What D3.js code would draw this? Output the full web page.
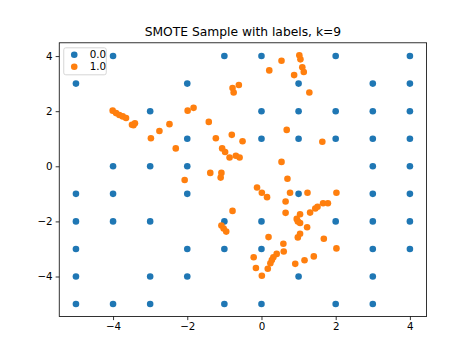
<!DOCTYPE html>
<html>
<head>
<meta charset="utf-8">
<script src="https://cdn.jsdelivr.net/npm/d3@7"></script>
<style>
  body { margin: 0; background: #fff; }
  text { font-family: "DejaVu Sans", sans-serif; }
</style>
</head>
<body>
<div id="chart"></div>
<script>
const width = 474;
const height = 355;

// label 0.0: original majority samples on the integer grid
const x0 = [-4, -1, 0, 2, 4,
    -5, -2, 1, 3, 4,
    -3, 0, 1, 2, 3, 4,
    -2, 0, 1, 2, 3, 4,
    -4, -3, -2, 3, 4,
    -5, -4, -2, 1, 3, 4,
    -5, -4, -3, -1, 0, 2, 3, 4,
    -5, -2, -1, 0, 3, 4,
    -5, -3, -2, 1, 3,
    -5, -4, -3, -1, 0, 2, 3];
const y0 = [4, 4, 4, 4, 4,
    3, 3, 3, 3, 3,
    2, 2, 2, 2, 2, 2,
    1, 1, 1, 1, 1, 1,
    0, 0, 0, 0, 0,
    -1, -1, -1, -1, -1, -1,
    -2, -2, -2, -2, -2, -2, -2, -2,
    -3, -3, -3, -3, -3, -3,
    -4, -4, -4, -4, -4,
    -5, -5, -5, -5, -5, -5, -5];

// label 1.0: minority + SMOTE samples
const x1 = [-4.01, -3.92, -3.83, -3.74, -3.65, -3.49, -3.45, -3.41, -2.98, -2.75,
    -2.48, -2.31, -1.99, -1.83, -1.42, -1.23, -0.80, -0.51, -1.06, -0.98,
    -0.86, -0.69, -0.59, -1.38, -1.08, -1.10, -2.07, -0.78, -1.08, -1.02,
    -0.95, 0.54, 0.68, 1.64, 1.02, 1.05, 0.54, 0.21, 1.10, 1.14,
    0.88, 1.29, -0.61, -0.78, -0.75, 0.70, -0.12, 0.01, 0.15, 0.77,
    1.24, 2.02, 0.65, 0.65, 1.31, 1.45, 1.51, 1.66, 1.79, 0.95,
    0.98, 1.04, 1.04, 1.23, 1.04, 0.98, 0.19, 1.68, 0.59, 0.60,
    2.02, 0.41, 0.32, 0.28, 0.24, -0.21, -0.15, 0.01, 0.17, 0.91,
    1.16, 1.41];
const y1 = [2.02, 1.93, 1.86, 1.81, 1.75, 1.51, 1.49, 1.56, 1.02, 1.28,
    1.53, 0.65, 2.02, 2.12, 1.61, 1.02, 1.14, 0.91, 0.65, 0.52,
    0.32, 0.38, 0.32, -0.24, -0.24, -0.41, -0.50, -1.62, -2.15, -2.26,
    -2.37, 0.16, 1.32, 0.89, 4.03, 3.88, 3.83, 3.48, 3.59, 3.42,
    3.31, 2.68, 2.95, 2.84, 2.68, -0.45, -0.77, -0.96, -1.12, -0.96,
    -0.96, -0.96, -1.28, -1.69, -1.68, -1.53, -1.47, -1.34, -1.34, -1.91,
    -2.00, -2.06, -1.74, -2.21, -2.45, -2.58, -2.57, -2.63, -2.81, -3.09,
    -2.98, -3.18, -3.30, -3.40, -3.52, -3.30, -3.69, -3.97, -3.72, -3.54,
    -3.41, -3.27];

const labels = ["0.0", "1.0"];
const colors = ["#1f77b4", "#ff7f0e"];
const xTicks = [-4, -2, 0, 2, 4];
const yTicks = [-4, -2, 0, 2, 4];

const margin = { left: 59.25, right: 474 - 426.6, top: 42.8, bottom: 355 - 316.5 };
const plotW = width - margin.left - margin.right;
const plotH = height - margin.top - margin.bottom;

const series = [
    x0.map((d, i) => ({ x: d, y: y0[i] })),
    x1.map((d, i) => ({ x: d, y: y1[i] }))
];
const all = series[0].concat(series[1]);

function padded(ext) {
    const p = (ext[1] - ext[0]) * 0.05;
    return [ext[0] - p, ext[1] + p];
}

const x = d3.scaleLinear()
    .domain(padded(d3.extent(all, (d) => d.x)))
    .range([0, plotW]);
const y = d3.scaleLinear()
    .domain(padded(d3.extent(all, (d) => d.y)))
    .range([plotH, 0]);

const svg = d3.select("#chart")
    .append("svg")
    .attr("width", width)
    .attr("height", height);

svg.append("text")
    .attr("x", margin.left + plotW / 2)
    .attr("y", margin.top - 6.5)
    .attr("text-anchor", "middle")
    .style("font-size", "12.3px")
    .text("SMOTE Sample with labels, k=9");

const g = svg.append("g")
    .attr("transform", `translate(${margin.left},${margin.top})`);

series.forEach((pts, k) => {
    g.append("g")
        .selectAll("circle")
        .data(pts)
        .enter().append("circle")
        .attr("cx", (d) => x(d.x))
        .attr("cy", (d) => y(d.y))
        .attr("r", 3.3)
        .attr("fill", colors[k]);
});

const xAxis = g.append("g")
    .attr("transform", `translate(0,${plotH})`)
    .call(d3.axisBottom(x).tickValues(xTicks).tickSize(3.6).tickPadding(3));
const yAxis = g.append("g")
    .call(d3.axisLeft(y).tickValues(yTicks).tickSize(3.6).tickPadding(3));
[xAxis, yAxis].forEach((a) => {
    a.select(".domain").remove();
    a.selectAll("line").attr("stroke", "#000").attr("stroke-width", 0.8);
    a.selectAll("text")
        .style("font-size", "10.3px")
        .style("font-family", "DejaVu Sans, sans-serif")
        .attr("fill", "#000");
});

g.append("rect")
    .attr("width", plotW)
    .attr("height", plotH)
    .attr("fill", "none")
    .attr("stroke", "#000")
    .attr("stroke-width", 0.8);

// legend
const legend = g.append("g")
    .attr("transform", "translate(4.5,5)");
legend.append("rect")
    .attr("width", 42.5)
    .attr("height", 27)
    .attr("rx", 2)
    .attr("fill", "#fff")
    .attr("fill-opacity", 0.8)
    .attr("stroke", "#ccc")
    .attr("stroke-width", 0.8);
labels.forEach((lab, k) => {
    legend.append("circle")
        .attr("cx", 10.5)
        .attr("cy", 7 + k * 12)
        .attr("r", 3.3)
        .attr("fill", colors[k]);
    legend.append("text")
        .attr("x", 26)
        .attr("y", 7 + k * 12)
        .attr("dy", "0.35em")
        .style("font-size", "10.3px")
        .text(lab);
});
</script>
</body>
</html>
